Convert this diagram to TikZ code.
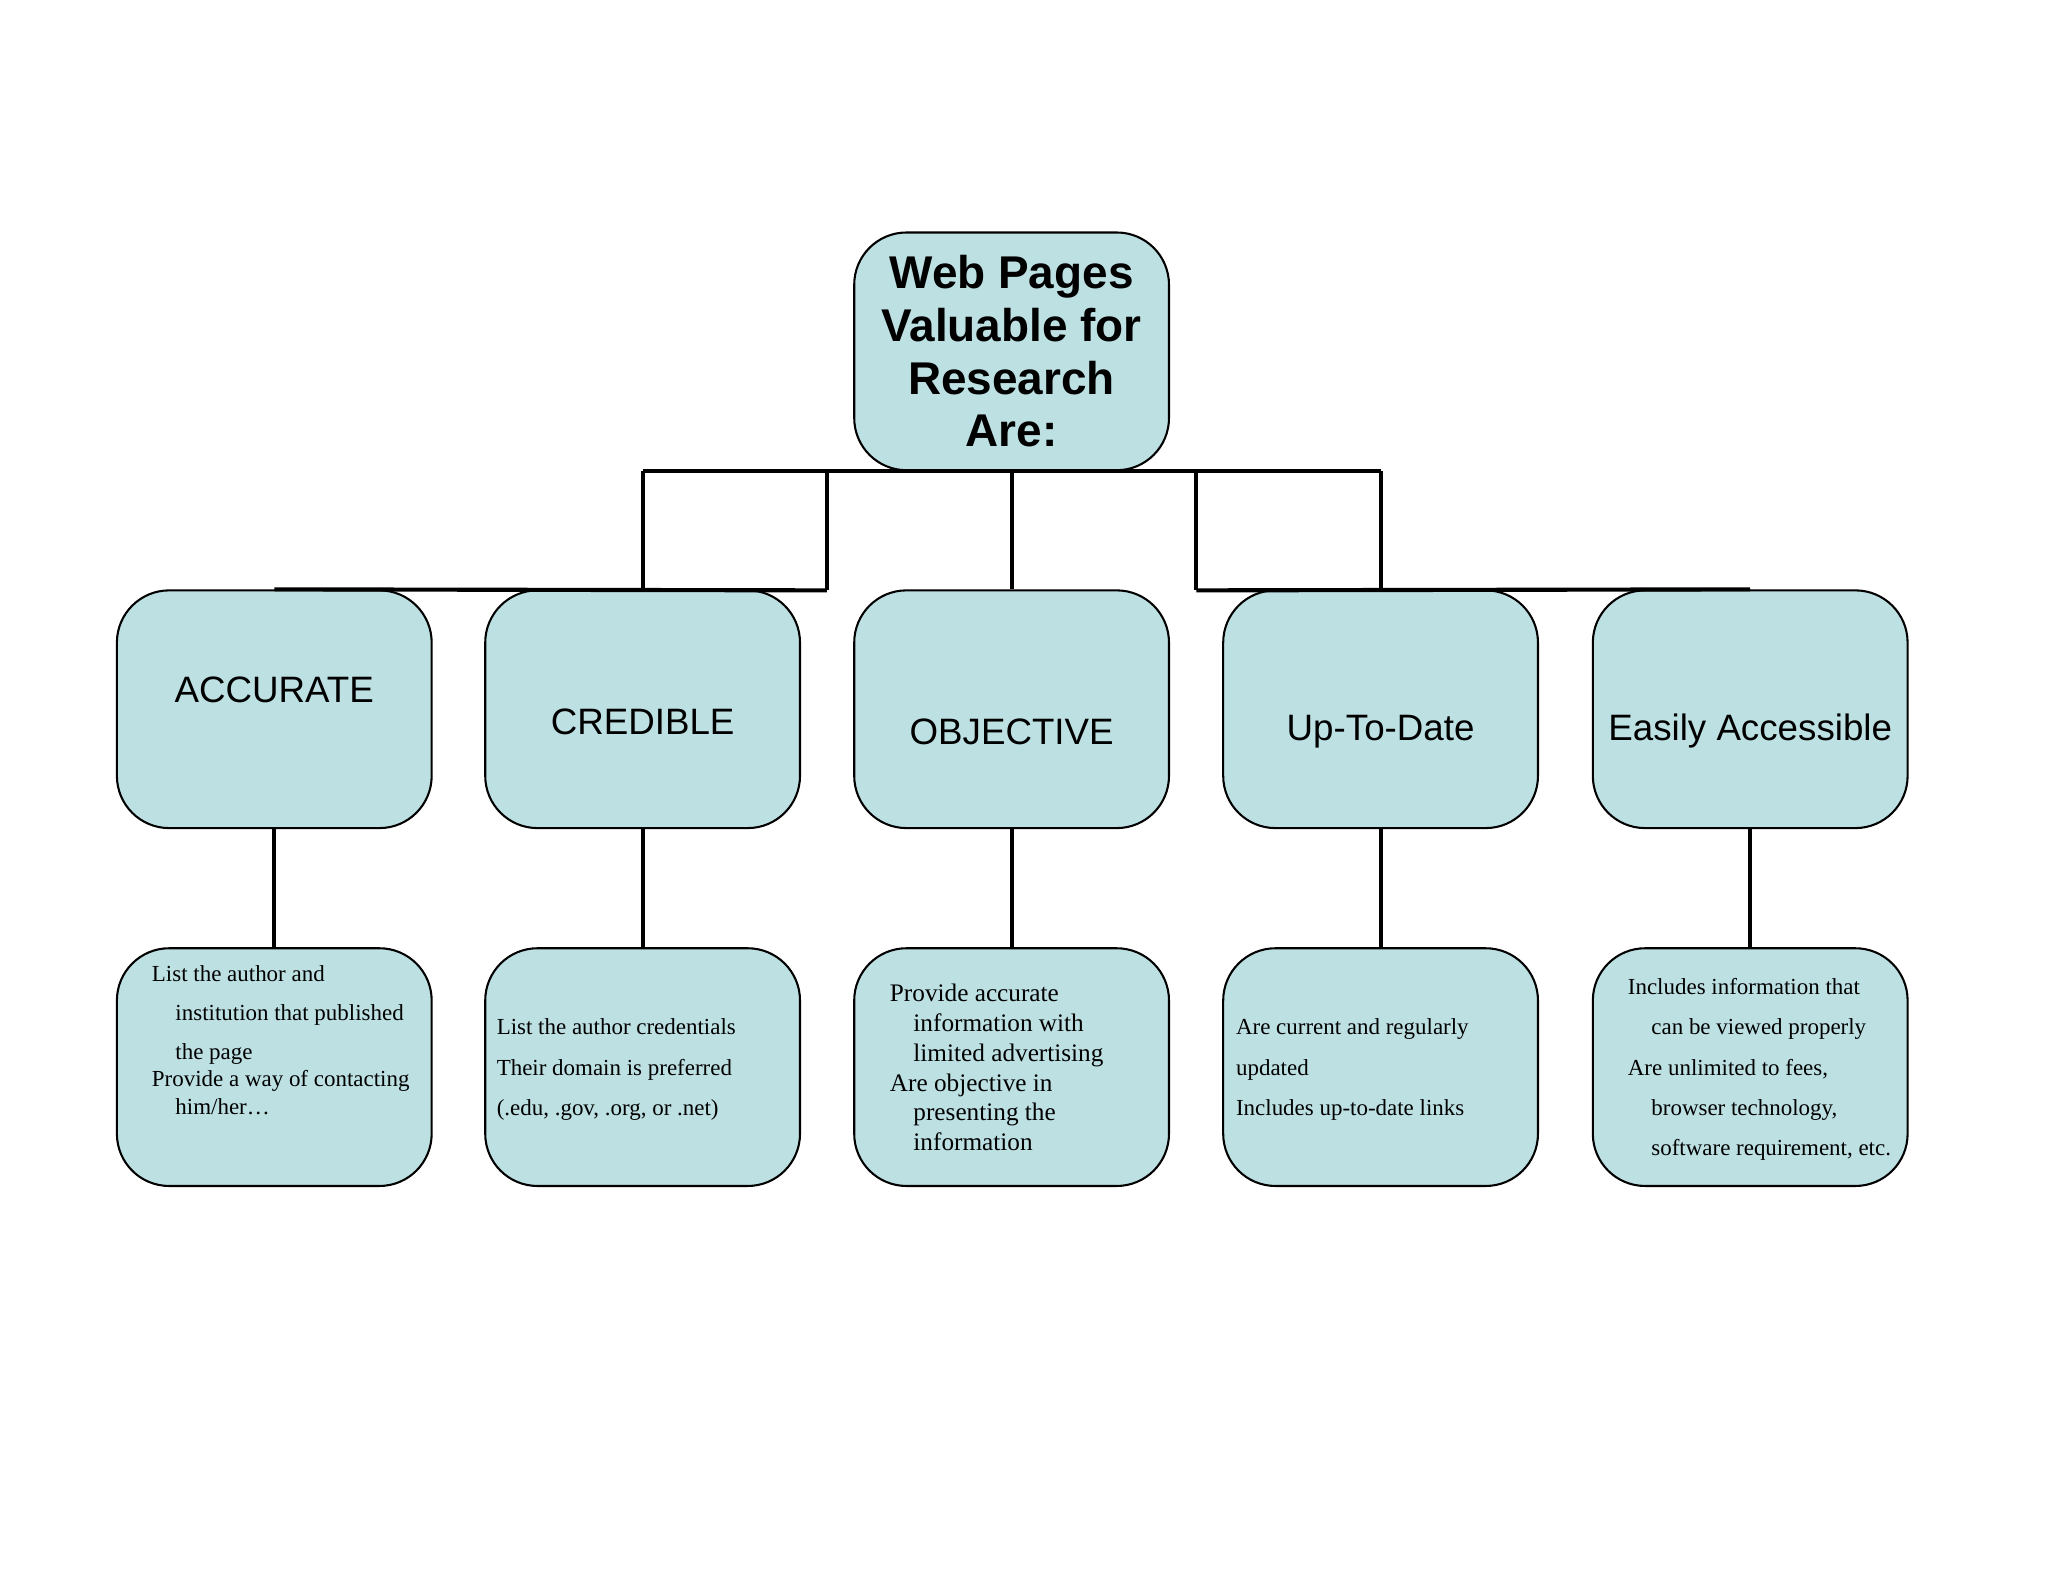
\documentclass[tikz,border=0pt]{standalone}
\usepackage{fontspec}
\setmainfont{Liberation Serif}
\newfontfamily\sans{Liberation Sans}
\begin{document}
\begin{tikzpicture}
\definecolor{boxfill}{RGB}{189,224,227}
\tikzset{box/.style={draw=black,line width=0.9pt,fill=boxfill,rounded corners=0.8cm,minimum width=4.82cm,minimum height=3.64cm,inner sep=0pt},
conn/.style={line width=1.8pt},
lbl/.style={font=\sans\fontsize{16}{19}\selectfont},
txt/.style={anchor=base west,align=left,inner sep=0pt,font=\fontsize{10}{12}\selectfont}}
\fill[white] (0,0) rectangle (31.36,-24.22);
\node[box] (top) at (15.49,-5.38) {};
\node[align=center,font=\sans\bfseries\fontsize{20}{23}\selectfont] (tt) at (15.49,-5.38) {Web Pages\\Valuable for\\Research\\Are:};
\foreach \n/\x in {b1/4.2,b2/9.84,b3/15.49,b4/21.14,b5/26.8}{
 \node[box] (\n) at (\x,-10.86) {};
}
\foreach \n/\x in {c1/4.2,c2/9.84,c3/15.49,c4/21.14,c5/26.8}{
 \node[box] (\n) at (\x,-16.34) {};
}
\node[lbl] (l1) at (4.2,-10.56) {ACCURATE};
\node[lbl] (l2) at (9.84,-11.06) {CREDIBLE};
\node[lbl] (l3) at (15.49,-11.2) {OBJECTIVE};
\node[lbl] (l4) at (21.14,-11.2) {Up-To-Date};
\node[lbl] (l5) at (26.8,-11.2) {Easily Accessible};
% connectors
\coordinate (h1) at (12.66,-7.2);
\coordinate (h2) at (18.32,-7.2);
\coordinate (k1) at (12.66,-9.04);
\coordinate (k2) at (18.32,-9.04);
\draw[conn] (b2.north |- top.south) -- (b4.north |- top.south);
\draw[conn] (b2.north |- top.south) -- (b2.north);
\draw[conn] (h1) -- (k1);
\draw[conn] (top.south) -- (b3.north);
\draw[conn] (h2) -- (k2);
\draw[conn] (b4.north |- top.south) -- (b4.north);
\draw[conn] (b1.north) -- (k1);
\draw[conn] (k2) -- (b5.north);
\foreach \i in {1,...,5}{\draw[conn] (b\i.south) -- (c\i.north);}
% texts
\node[txt] (t1) at (2.32,-17.06) {List the author and\\[5pt]
\hspace*{0.36cm}institution that published\\[5pt]
\hspace*{0.36cm}the page\\
Provide a way of contacting\\
\hspace*{0.36cm}him/her\ldots};
\node[txt] (t2) at (7.6,-17.08) {List the author credentials\\[5.6pt]
Their domain is preferred\\[5.6pt]
(.edu, .gov, .org, or .net)};
\node[txt,font=\fontsize{11}{13}\selectfont] (t3) at (13.62,-17.62) {Provide accurate\\
\hspace*{0.36cm}information with\\
\hspace*{0.36cm}limited advertising\\
Are objective in\\
\hspace*{0.36cm}presenting the\\
\hspace*{0.36cm}information};
\node[txt] (t4) at (18.92,-17.08) {Are current and regularly\\[5.6pt]
updated\\[5.6pt]
Includes up-to-date links};
\node[txt] (t5) at (24.92,-17.7) {Includes information that\\[5.6pt]
\hspace*{0.36cm}can be viewed properly\\[5.6pt]
Are unlimited to fees,\\[5.6pt]
\hspace*{0.36cm}browser technology,\\[5.6pt]
\hspace*{0.36cm}software requirement, etc.};
\end{tikzpicture}
\end{document}
